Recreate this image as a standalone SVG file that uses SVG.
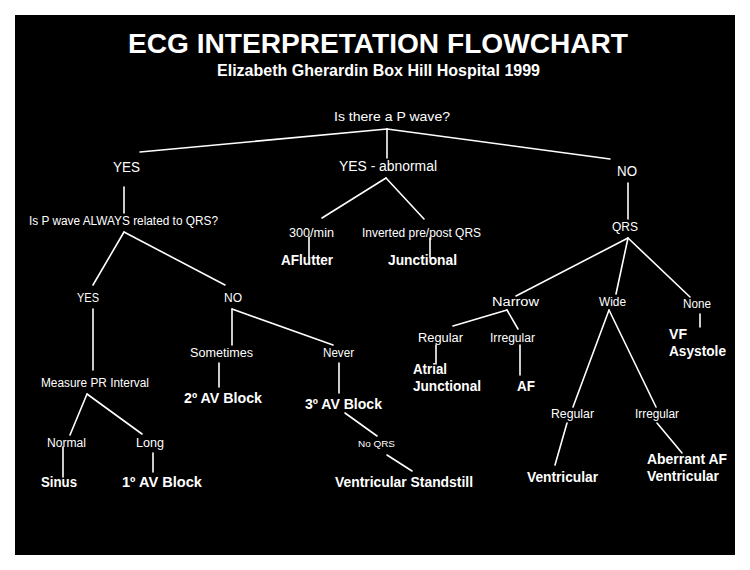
<svg xmlns="http://www.w3.org/2000/svg" width="750" height="570" viewBox="0 0 750 570">
<style>
text { fill: #ffffff; font-family: "Liberation Sans", Arial, sans-serif; }
.t { font-size: 27px; font-weight: bold; }
.st { font-size: 16px; font-weight: bold; }
.q { font-size: 13px; }
.l1 { font-size: 14px; }
.s { font-size: 12px; }
.xs { font-size: 9px; }
.b { font-size: 14px; font-weight: bold; }
#connectors line { stroke: #ffffff; stroke-width: 1.6; stroke-linecap: round; }
</style>
<rect x="0" y="0" width="750" height="570" fill="#ffffff"/>
<rect x="15" y="15" width="720" height="540" fill="#000000"/>
<g id="title">
<text class="t" x="128" y="53" textLength="500" lengthAdjust="spacingAndGlyphs">ECG INTERPRETATION FLOWCHART</text>
<text class="st" x="217" y="76" textLength="323" lengthAdjust="spacingAndGlyphs">Elizabeth Gherardin Box Hill Hospital 1999</text>
</g>
<g id="connectors">
<line x1="387" y1="129" x2="140" y2="152"/>
<line x1="387" y1="129" x2="610" y2="159"/>
<line x1="387" y1="129" x2="387" y2="158"/>
<line x1="124" y1="187" x2="124" y2="213"/>
<line x1="124" y1="232" x2="93" y2="285"/>
<line x1="124" y1="232" x2="225" y2="285"/>
<line x1="93" y1="309" x2="93" y2="370"/>
<line x1="87" y1="394" x2="70" y2="435"/>
<line x1="87" y1="394" x2="142" y2="434"/>
<line x1="63" y1="447" x2="63" y2="477"/>
<line x1="153" y1="453" x2="153" y2="472"/>
<line x1="232" y1="309" x2="232" y2="345"/>
<line x1="232" y1="309" x2="333" y2="345"/>
<line x1="219" y1="363" x2="219" y2="387"/>
<line x1="339" y1="363" x2="339" y2="393"/>
<line x1="345" y1="413" x2="377" y2="436"/>
<line x1="387" y1="455" x2="412" y2="471"/>
<line x1="386" y1="178" x2="322" y2="218"/>
<line x1="386" y1="178" x2="424" y2="219"/>
<line x1="309" y1="237" x2="309" y2="257"/>
<line x1="430" y1="238" x2="430" y2="258"/>
<line x1="628" y1="183" x2="628" y2="219"/>
<line x1="628" y1="238" x2="516" y2="296"/>
<line x1="628" y1="238" x2="616" y2="294"/>
<line x1="628" y1="238" x2="690" y2="297"/>
<line x1="507" y1="310" x2="453" y2="326"/>
<line x1="507" y1="310" x2="518" y2="329"/>
<line x1="436" y1="345" x2="436" y2="364"/>
<line x1="520" y1="345" x2="520" y2="375"/>
<line x1="609" y1="310" x2="573" y2="407"/>
<line x1="609" y1="310" x2="656" y2="407"/>
<line x1="567" y1="423" x2="555" y2="465"/>
<line x1="657" y1="423" x2="682" y2="453"/>
<line x1="700" y1="314" x2="700" y2="327"/>
</g>
<g id="n-pwave"><text class="q" x="334" y="121" textLength="116" lengthAdjust="spacingAndGlyphs">Is there a P wave?</text></g>
<g id="n-yes"><text class="l1" x="113" y="172" textLength="27" lengthAdjust="spacingAndGlyphs">YES</text></g>
<g id="n-yes-abn"><text class="l1" x="339" y="171" textLength="98" lengthAdjust="spacingAndGlyphs">YES - abnormal</text></g>
<g id="n-no"><text class="l1" x="617" y="176" textLength="20" lengthAdjust="spacingAndGlyphs">NO</text></g>
<g id="n-always"><text class="s" x="29" y="225" textLength="189" lengthAdjust="spacingAndGlyphs">Is P wave ALWAYS related to QRS?</text></g>
<g id="n-300"><text class="s" x="289" y="237" textLength="45" lengthAdjust="spacingAndGlyphs">300/min</text></g>
<g id="n-inverted"><text class="s" x="362" y="237" textLength="119" lengthAdjust="spacingAndGlyphs">Inverted pre/post QRS</text></g>
<g id="n-aflutter"><text class="b" x="281" y="265" textLength="52" lengthAdjust="spacingAndGlyphs">AFlutter</text></g>
<g id="n-junctional1"><text class="b" x="388" y="265" textLength="69" lengthAdjust="spacingAndGlyphs">Junctional</text></g>
<g id="n-qrs"><text class="s" x="612" y="231" textLength="26" lengthAdjust="spacingAndGlyphs">QRS</text></g>
<g id="n-yes2"><text class="s" x="77" y="302" textLength="22" lengthAdjust="spacingAndGlyphs">YES</text></g>
<g id="n-no2"><text class="s" x="224" y="302" textLength="18" lengthAdjust="spacingAndGlyphs">NO</text></g>
<g id="n-measure"><text class="s" x="41" y="387" textLength="108" lengthAdjust="spacingAndGlyphs">Measure PR Interval</text></g>
<g id="n-normal"><text class="s" x="47" y="447" textLength="39" lengthAdjust="spacingAndGlyphs">Normal</text></g>
<g id="n-long"><text class="s" x="136" y="447" textLength="28" lengthAdjust="spacingAndGlyphs">Long</text></g>
<g id="n-sinus"><text class="b" x="41" y="487" textLength="36" lengthAdjust="spacingAndGlyphs">Sinus</text></g>
<g id="n-1avb"><text class="b" x="122" y="487" textLength="80" lengthAdjust="spacingAndGlyphs">1º AV Block</text></g>
<g id="n-sometimes"><text class="s" x="190" y="357" textLength="63" lengthAdjust="spacingAndGlyphs">Sometimes</text></g>
<g id="n-never"><text class="s" x="323" y="357" textLength="31" lengthAdjust="spacingAndGlyphs">Never</text></g>
<g id="n-2avb"><text class="b" x="184" y="403" textLength="78" lengthAdjust="spacingAndGlyphs">2º AV Block</text></g>
<g id="n-3avb"><text class="b" x="305" y="409" textLength="77" lengthAdjust="spacingAndGlyphs">3º AV Block</text></g>
<g id="n-noqrs"><text class="xs" x="358" y="447" textLength="37" lengthAdjust="spacingAndGlyphs">No QRS</text></g>
<g id="n-standstill"><text class="b" x="335" y="487" textLength="138" lengthAdjust="spacingAndGlyphs">Ventricular Standstill</text></g>
<g id="n-narrow"><text class="s" x="492" y="306" textLength="47" lengthAdjust="spacingAndGlyphs">Narrow</text></g>
<g id="n-wide"><text class="s" x="599" y="306" textLength="27" lengthAdjust="spacingAndGlyphs">Wide</text></g>
<g id="n-none"><text class="s" x="683" y="308" textLength="28" lengthAdjust="spacingAndGlyphs">None</text></g>
<g id="n-regular1"><text class="s" x="418" y="342" textLength="45" lengthAdjust="spacingAndGlyphs">Regular</text></g>
<g id="n-irregular1"><text class="s" x="490" y="342" textLength="45" lengthAdjust="spacingAndGlyphs">Irregular</text></g>
<g id="n-atrial"><text class="b" x="413" y="374" textLength="34" lengthAdjust="spacingAndGlyphs">Atrial</text><text class="b" x="413" y="391" textLength="68" lengthAdjust="spacingAndGlyphs">Junctional</text></g>
<g id="n-af"><text class="b" x="517" y="391" textLength="18" lengthAdjust="spacingAndGlyphs">AF</text></g>
<g id="n-vf"><text class="b" x="669" y="339" textLength="18" lengthAdjust="spacingAndGlyphs">VF</text><text class="b" x="669" y="356" textLength="57" lengthAdjust="spacingAndGlyphs">Asystole</text></g>
<g id="n-regular2"><text class="s" x="551" y="418" textLength="43" lengthAdjust="spacingAndGlyphs">Regular</text></g>
<g id="n-irregular2"><text class="s" x="635" y="418" textLength="44" lengthAdjust="spacingAndGlyphs">Irregular</text></g>
<g id="n-ventricular"><text class="b" x="527" y="482" textLength="71" lengthAdjust="spacingAndGlyphs">Ventricular</text></g>
<g id="n-aberrant"><text class="b" x="647" y="464" textLength="80" lengthAdjust="spacingAndGlyphs">Aberrant AF</text><text class="b" x="647" y="481" textLength="72" lengthAdjust="spacingAndGlyphs">Ventricular</text></g>
</svg>
